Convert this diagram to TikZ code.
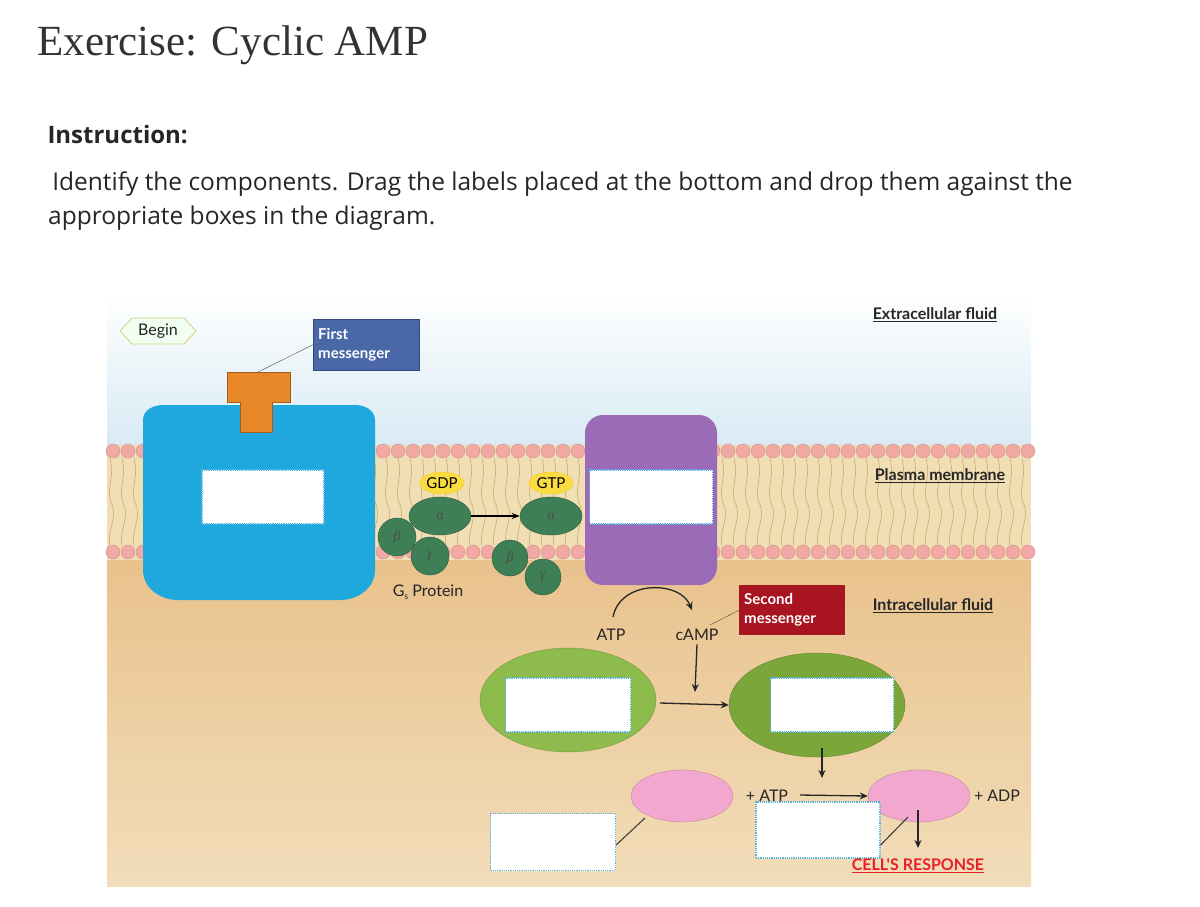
\documentclass[tikz,border=0pt]{standalone}
\usepackage{fontspec}
\setmainfont{Open Sans}
\newfontfamily\lat{Lato}
\newfontfamily\ser{Liberation Serif}
\usetikzlibrary{shapes.geometric,arrows.meta}
\definecolor{skyc}{HTML}{D8EAF4}
\definecolor{tanT}{HTML}{E9C28C}
\definecolor{tanB}{HTML}{F2DDBA}
\definecolor{memb}{HTML}{F0DFB5}
\definecolor{head}{HTML}{F2A8A4}
\definecolor{tail}{HTML}{C8A060}
\definecolor{recep}{HTML}{1FA8DD}
\definecolor{orng}{HTML}{E8862A}
\definecolor{fmsg}{HTML}{4A68A8}
\definecolor{smsg}{HTML}{A8141F}
\definecolor{gsg}{HTML}{3E7F55}
\definecolor{yel}{HTML}{F8DC40}
\definecolor{purp}{HTML}{9C6BB8}
\definecolor{gl}{HTML}{8DBB4C}
\definecolor{gd}{HTML}{7BA63A}
\definecolor{pink}{HTML}{F2A8CE}
\definecolor{dash}{HTML}{5AB4E0}
\definecolor{respred}{HTML}{E8202A}
\tikzset{
 blank/.style={draw=dash,densely dotted,line width=1.2pt,fill=white,minimum width=#1,minimum height=54pt,inner sep=0pt},
 blank/.default=123pt,
 sub/.style={circle,fill=gsg,draw=gsg!70!black,inner sep=0pt,minimum size=38pt,font=\ser\itshape\fontsize{14}{16}\selectfont,text=black!70},
 alpha/.style={ellipse,fill=gsg,draw=gsg!70!black,minimum width=62pt,minimum height=38pt,inner sep=0pt,font=\ser\itshape\fontsize{14}{16}\selectfont,text=black!70},
 gnuc/.style={ellipse,fill=yel,draw=yel!80!orange,minimum width=44pt,minimum height=22pt,inner sep=0pt,font=\lat\fontsize{15}{17}\selectfont},
 lbl/.style={font=\lat\fontsize{16}{18}\selectfont,text=black!85},
 ul/.style={font=\lat\bfseries\fontsize{16}{18}\selectfont,text=black!85},
 arr/.style={-{Stealth[length=8pt,width=7pt]},line width=1.3pt,black!85},
}
\begin{document}
\begin{tikzpicture}[x=1pt,y=-1pt]
\useasboundingbox (0,0) rectangle (1200,906);
\fill[white] (0,0) rectangle (1200,906);
\node[anchor=west,font=\ser\fontsize{43}{48}\selectfont,text=black!80] (title) at (34,45) {Exercise: Cyclic AMP};
\node[anchor=west,font=\bfseries\fontsize{24}{28}\selectfont,text=black!85] (instr) at (44,135) {Instruction:};
\node[anchor=north west,font=\fontsize{24.5}{34}\selectfont,text=black!85,align=left,inner sep=0pt] (itext) at (48,172) {\,Identify the components. Drag the labels placed at the bottom and drop them against the\\appropriate boxes in the diagram.};
% background
\shade[top color=white,bottom color=skyc] (107,292) rectangle (1031,445);
\shade[top color=tanT,bottom color=tanB] (107,560) rectangle (1031,886);
\fill[memb] (107,445) rectangle (1031,560);
\foreach \x in {110,122,...,1030}{
 \draw[tail,line width=0.5pt] (\x,458) .. controls (\x+5,480) and (\x-5,490) .. (\x+2,505);
 \draw[tail,line width=0.5pt] (\x+2,505) .. controls (\x+7,520) and (\x-3,530) .. (\x,545);
}
\foreach \x in {113,128,...,1030}{
 \fill[head,draw=head!85!black,line width=0.4pt] (\x,451) circle (7);
 \fill[head,draw=head!85!black,line width=0.4pt] (\x,552) circle (7);
}
% receptor
\fill[recep] (143,420) to[out=90,in=180] (163,405) -- (240,405) -- (240,432) -- (272,432) -- (272,405) -- (355,405) to[out=0,in=90] (375,420) -- (375,570) to[out=270,in=0] (340,600) -- (178,600) to[out=180,in=270] (143,570) -- cycle;
\fill[orng,draw=orng!70!black] (227,372) -- (290,372) -- (290,402) -- (272,402) -- (272,432) -- (240,432) -- (240,402) -- (227,402) -- cycle;
\coordinate (lig) at (258,372);
\node[blank=122pt] (b1) at (263,497) {};
\node[fill=fmsg,draw=fmsg!70!black,text=white,font=\lat\bfseries\fontsize{15}{19}\selectfont,align=left,minimum width=106pt,minimum height=51pt,anchor=north west,text width=96pt] (fm) at (313,319) {First\\messenger};
\draw[black!70] (lig) -- (fm.west);
\fill[green!6!white,draw=olive!40,line width=0.8pt] (120,331) -- (132,318) -- (184,318) -- (196,331) -- (184,344) -- (132,344) -- cycle;
\node[lbl] (begin) at (158,331) {Begin};
% Gs protein
\node[sub] (b2) at (397,537) {β};
\node[sub] (g2) at (430,556) {γ};
\node[alpha] (a1) at (440,516) {α};
\node[gnuc] (gdp) at (442,483) {GDP};
\node[sub,minimum size=36pt] (b3) at (510,558) {β};
\node[sub,minimum size=36pt] (g3) at (543,577) {γ};
\node[alpha] (a2) at (551,516) {α};
\node[gnuc] (gtp) at (551,483) {GTP};
\draw[-{Stealth[length=8pt]},line width=2pt] (a1.east) -- (a2.west);
\node[lbl] (gs) at (428,592) {G\raisebox{-0.4ex}{\fontsize{9}{10}\selectfont s} Protein};
% adenylyl cyclase
\fill[purp,rounded corners=18pt] (585,415) rectangle (717,585);
\node[blank=123pt] (b2x) at (651,497) {};
% ATP cAMP
\node[lbl] (atp) at (611,635) {ATP};
\node[lbl] (camp) at (697,635) {cAMP};
\draw[arr] (613,617) .. controls (620,580) and (680,580) .. (692,610);
\node[fill=smsg,text=white,font=\lat\bfseries\fontsize{15}{19}\selectfont,align=left,minimum width=106pt,minimum height=50pt,anchor=north west,text width=96pt] (sm) at (739,585) {Second\\messenger};
\draw[black!70] (710,625) -- (sm.west);
\node[ul] (icf) at (933,606) {\underline{Intracellular fluid}};
\node[ul] (ecf) at (935,315) {\underline{Extracellular fluid}};
\node[ul] (pm) at (940,476) {\underline{Plasma membrane}};
% green ellipses
\node[ellipse,fill=gl,draw=gl!80!black,minimum width=176pt,minimum height=104pt] (e1) at (568,700) {};
\node[ellipse,fill=gd,draw=gd!80!black,minimum width=176pt,minimum height=104pt] (e2) at (817,705) {};
\node[blank=125pt] (b3x) at (568,705) {};
\node[blank=123pt] (b4) at (832,705) {};
\draw[arr] (camp.south) -- (695,692);
\draw[arr] (660,703) -- (e2.west);
\draw[arr] (822,748) -- (822,778);
% pink
\node[ellipse,fill=pink,draw=pink!80!black,minimum width=102pt,minimum height=52pt] (p1) at (682,796) {};
\node[ellipse,fill=pink,draw=pink!80!black,minimum width=102pt,minimum height=52pt] (p2) at (919,796) {};
\node[lbl] (patp) at (767,796) {+ ATP};
\node[lbl] (padp) at (997,796) {+ ADP};
\draw[arr] (800,795) -- (p2.west);
\node[blank=124pt,minimum height=56pt] (b5) at (818,830) {};
\node[blank=125pt,minimum height=57pt] (b6) at (553,842) {};
\draw[black!80,line width=1pt] (b5.east |- 0,845) -- (908,817);
\draw[black!80,line width=1pt] (b6.east |- 0,845) -- (645,818);
\draw[arr] (918,810) -- (918,848);
\node[font=\lat\bfseries\fontsize{16}{18}\selectfont,text=respred] (resp) at (918,866) {\underline{CELL'S RESPONSE}};
\end{tikzpicture}
\end{document}
